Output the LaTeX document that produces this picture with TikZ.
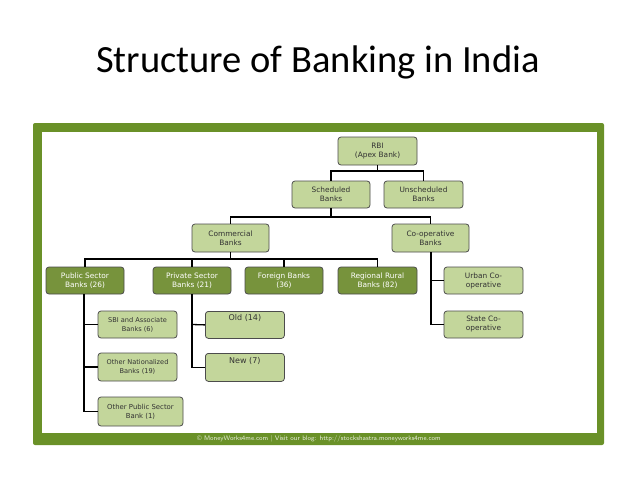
\documentclass[tikz,border=0pt]{standalone}
\usepackage{fontspec}
\setmainfont{Carlito}
\newfontfamily\boxfont{DejaVu Sans}
\begin{document}
\begin{tikzpicture}[x=1pt,y=-1pt,
  lb/.style={draw=black!70,line width=0.8pt,rounded corners=3pt,fill=light,inner sep=0pt,font=\boxfont\fontsize{7.4}{9}\selectfont,align=center,text=black!80},
  db/.style={lb,fill=dark,text=white},
  ln/.style={line width=1.3pt,black}]
\definecolor{light}{HTML}{C3D69B}
\definecolor{dark}{HTML}{77933C}
\definecolor{frame}{HTML}{6A9128}
\useasboundingbox (0,0) rectangle (638,479);
\fill[white] (0,0) rectangle (638,479);
\node[font=\fontsize{38.5}{42}\selectfont] (title) at (318,62) {Structure of Banking in India};
\fill[frame,rounded corners=2pt] (33,123) rectangle (604,445);
\fill[white] (42,132) rectangle (597,433);
\node[font=\sffamily\fontsize{6.6}{7}\selectfont,text=white!85!frame] (foot) at (319,439) {© MoneyWorks4me.com | Visit our blog: http://stockshastra.moneyworks4me.com};
% nodes
\newcommand\lbox[6]{\node[#6,minimum width=#4pt-#2pt,minimum height=#5pt-#3pt] (#1) at ({(#2+#4)/2},{(#3+#5)/2})}
\lbox{rbi}{338}{137}{417}{165}{lb}{RBI\\(Apex Bank)};
\lbox{sch}{292}{181}{370}{208}{lb}{Scheduled\\Banks};
\lbox{uns}{384}{181}{463}{208}{lb}{Unscheduled\\Banks};
\lbox{com}{192}{224}{269}{252}{lb}{Commercial\\Banks};
\lbox{coop}{392}{224}{469}{252}{lb}{Co-operative\\Banks};
\lbox{pub}{46}{267}{124}{294}{db}{Public Sector\\Banks (26)};
\lbox{pri}{153}{267}{231}{294}{db}{Private Sector\\Banks (21)};
\lbox{for}{245}{267}{323}{294}{db}{Foreign Banks\\(36)};
\lbox{reg}{338}{267}{417}{294}{db}{Regional Rural\\Banks (82)};
\lbox{urb}{444}{267}{523}{294}{lb}{Urban Co-\\operative};
\lbox{sta}{444}{311}{523}{338}{lb}{State Co-\\operative};
\lbox{sbi}{98}{311}{177}{338}{lb,font=\boxfont\fontsize{6.6}{9}\selectfont}{SBI and Associate\\Banks (6)};
\lbox{onb}{98}{353}{177}{381}{lb,font=\boxfont\fontsize{6.6}{9}\selectfont}{Other Nationalized\\Banks (19)};
\lbox{opb}{98}{397}{183}{426}{lb,font=\boxfont\fontsize{6.9}{9}\selectfont}{Other Public Sector\\Bank (1)};
\node[lb,minimum width=79pt,minimum height=27pt,anchor=north west,text depth=14pt,font=\boxfont\fontsize{8}{9}\selectfont] (old) at (205,311) {Old (14)};
\node[lb,minimum width=79pt,minimum height=28pt,anchor=north west,text depth=14pt,font=\boxfont\fontsize{8}{9}\selectfont] (new) at (205,353) {New (7)};
% connectors
\draw[ln] (rbi.south) -- (rbi.south|-0,171) coordinate (b1);
\draw[ln] (sch.north) |- (b1) -| (uns.north);
\draw[ln] (sch.south) -- (sch.south|-0,217) coordinate (b2);
\draw[ln] (com.north) |- (b2) -| (coop.north);
\draw[ln] (com.south) -- (com.south|-0,259) coordinate (b3);
\draw[ln] (pub.north) |- (b3) -| (reg.north);
\draw[ln] (pri.north) -- (pri.north|-b3);
\draw[ln] (for.north) -- (for.north|-b3);
\draw[ln] (pub.south-|84,0) |- (opb.west);
\draw[ln] (84,324.5) -- (sbi.west);
\draw[ln] (84,367) -- (onb.west);
\draw[ln] (pri.south-|192,0) |- (new.west);
\draw[ln] (192,324.5) -- (old.west);
\draw[ln] (coop.south-|431,0) |- (sta.west);
\draw[ln] (431,280.5) -- (urb.west);
\end{tikzpicture}
\end{document}
